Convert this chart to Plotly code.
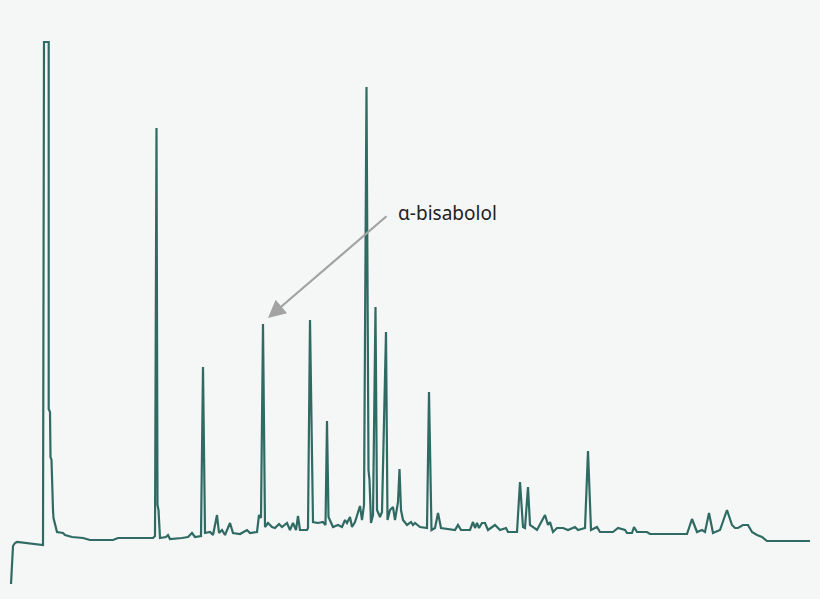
import plotly.graph_objects as go

# Retention position (arbitrary units) and detector signal
retention = [11, 13, 15, 17, 43, 43.5, 44, 44, 48.7, 48.7, 50, 50.5, 51.5, 52, 53, 53.5, 55, 57, 63, 65,
             72, 83, 90, 113, 118, 153, 155, 156.5, 157.5, 158.5, 160, 166, 168, 170, 182, 188, 192, 195,
             201, 203, 205, 210, 213, 217, 219, 222, 225, 230, 233, 240, 247, 250, 257, 259, 261, 263,
             265, 268, 272, 275, 279, 282, 287, 290, 293, 296, 298, 300, 307, 308, 310, 313, 318, 323,
             325.5, 327, 328.5, 333, 338, 342, 345, 347, 350, 352, 355, 358, 360, 362, 364, 366.5, 368.5,
             369.5, 371, 373, 375.5, 377, 380, 382, 386, 387.5, 390, 393, 395, 398, 399.5, 401, 403, 407,
             411, 413, 415, 420, 427, 429, 431.5, 435, 438, 441, 455, 458, 461, 470, 473, 475, 477, 479,
             482, 485, 488, 495, 500, 506, 508, 517, 520, 523, 525, 528, 530, 537, 545, 548, 550, 553,
             557, 563, 568, 575, 578, 585, 588, 591, 597, 600, 613, 618, 625, 627, 632, 634, 637, 647,
             650, 687, 692, 697, 702, 705, 709, 713, 720, 727, 732, 735, 738, 743, 748, 752, 757, 762,
             767, 810]
signal = [15, 53, 56, 57, 54, 309, 324, 557, 557, 190, 187, 142, 139, 109, 89, 81, 74, 67, 66, 64,
          62, 61, 59, 59, 61, 61, 63, 471, 94, 89, 61, 62, 64, 60, 61, 62, 66, 62,
          63, 232, 66, 67, 64, 84, 66, 69, 64, 76, 66, 65, 69, 66, 67, 84, 81, 275,
          72, 76, 72, 71, 75, 72, 76, 69, 76, 69, 83, 69, 69, 71, 279, 77, 76, 77,
          74, 178, 82, 72, 74, 72, 79, 76, 82, 72, 77, 86, 93, 79, 94, 512, 129,
          119, 76, 84, 292, 89, 82, 87, 267, 79, 89, 92, 79, 97, 130, 89, 79, 74,
          77, 74, 76, 72, 71, 207, 69, 71, 86, 71, 69, 74, 69, 69, 77, 71, 76, 71,
          76, 76, 69, 74, 69, 71, 67, 67, 117, 72, 71, 112, 74, 69, 84, 74, 77, 67,
          71, 71, 69, 72, 69, 71, 148, 69, 72, 67, 67, 71, 69, 66, 66, 72, 67, 67,
          65, 65, 80, 67, 69, 67, 86, 66, 69, 89, 74, 71, 71, 74, 74, 67, 64, 62,
          58, 58]

label_text = "α-bisabolol"
label_peak = (268, 281)   # arrow tip
label_tail = (388, 384)   # arrow tail
label_pos = (396, 386)

BG = "#f5f6f6"

fig = go.Figure()
fig.add_trace(go.Scatter(x=retention, y=signal, mode="lines",
                         line=dict(color="#2f6b63", width=2.2), hoverinfo="skip"))

fig.add_annotation(x=label_peak[0], y=label_peak[1], ax=label_tail[0], ay=label_tail[1],
                   axref="x", ayref="y", xref="x", yref="y", text="", showarrow=True,
                   arrowhead=2, arrowsize=1.6, arrowwidth=2.2, arrowcolor="#a3a3a3")
fig.add_annotation(x=label_pos[0], y=label_pos[1], xref="x", yref="y", text=label_text,
                   showarrow=False, xanchor="left", yanchor="middle",
                   font=dict(family="Noto Sans", size=19, color="#222222"))

fig.update_layout(width=820, height=599, margin=dict(l=0, r=0, t=0, b=0),
                  paper_bgcolor=BG, plot_bgcolor=BG, showlegend=False)
fig.update_xaxes(range=[0, 820], visible=False)
fig.update_yaxes(range=[0, 599], visible=False)
fig.write_html("out.html", config={"displayModeBar": False},
               post_script="document.body.style.margin='0';document.body.style.padding='0';"
                           "document.body.style.overflow='hidden';"
                           "document.body.style.background='" + BG + "';")
